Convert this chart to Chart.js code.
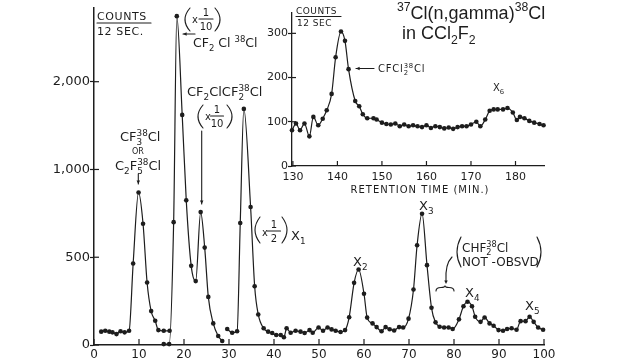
<!DOCTYPE html>
<html>
<head>
<meta charset="utf-8">
<script src="https://cdn.jsdelivr.net/npm/chart.js@4.4.1/dist/chart.umd.min.js"></script>
<style>
  html, body { margin: 0; padding: 0; background: #fff; }
  #wrap { position: relative; width: 640px; height: 360px; overflow: hidden; }
  #main { position: absolute; left: 0; top: 0; }
  #inset { position: absolute; left: 250px; top: 0; }
</style>
</head>
<body>
<div id="wrap">
  <canvas id="main" width="640" height="360"></canvas>
  <canvas id="inset" width="310" height="205"></canvas>
</div>
<script>
// retention time (min) / counts per 12 sec
// CF3-38Cl (or C2F5-38Cl) peak with its baseline
var peakAT = [1.6, 2.5, 3.4, 4.1, 5.0, 5.9, 6.8, 7.8, 8.7, 9.9, 10.9, 11.8, 12.7, 13.6, 14.3, 15.5, 16.8];
var peakAC = [76, 81, 76, 72, 62, 78, 72, 81, 464, 869, 691, 356, 193, 138, 85, 81, 81];

// CF2Cl-38Cl and CF2ClCF2-38Cl (both x 1/10)
var peakBT = [15.5, 16.7, 17.7, 18.4, 19.6, 20.5, 21.6, 22.6, 23.7, 24.6, 25.4, 26.5, 27.6, 28.5];
var peakBC = [5, 5, 700, 2747, 1622, 824, 451, 364, 757, 555, 274, 123, 51, 23];

// X1 (x 1/2) through X5
var restT = [29.6, 30.7, 31.8, 32.5, 33.3, 34.8, 35.7, 36.5, 37.7, 38.7,
  39.6, 40.5, 41.5, 42.2, 42.8, 43.7, 44.8, 45.9, 46.8, 47.9,
  48.6, 49.9, 50.9, 51.9, 52.8, 53.7, 54.8, 55.8, 56.7, 57.8,
  58.8, 60.0, 60.7, 61.9, 62.8, 63.9, 64.8, 65.7, 66.7, 67.8,
  68.7, 69.9, 71.0, 71.8, 72.9, 74.0, 75.0, 75.9, 76.8, 77.8,
  78.8, 79.7, 81.1, 82.1, 83.0, 84.0, 84.7, 85.9, 86.8, 87.9,
  88.8, 89.9, 90.9, 91.8, 92.8, 93.9, 94.8, 95.9, 96.8, 97.7,
  98.7, 99.8];
var restC = [91, 70, 78, 695, 1690, 786, 335, 174, 95, 76,
  68, 57, 57, 44, 95, 70, 81, 76, 68, 85,
  70, 100, 81, 100, 89, 81, 74, 85, 158, 354,
  430, 292, 156, 123, 102, 78, 102, 90, 83, 102,
  100, 150, 316, 568, 748, 455, 212, 129, 104, 100,
  100, 91, 146, 221, 246, 221, 161, 132, 157, 123,
  110, 85, 81, 91, 95, 87, 136, 136, 161, 132,
  100, 87];

// inset: CFCl2-38Cl and X6
var insetT = [129.8, 130.7, 131.6, 132.6, 133.7, 134.6, 135.7, 136.7, 137.6, 138.7,
  139.6, 140.8, 141.7, 142.5, 144.0, 144.9, 145.7, 146.7, 148.1, 148.8,
  150, 151, 152, 153, 154, 155, 156, 157, 158, 159,
  160, 161, 162, 163, 164, 165, 166, 167, 168, 169,
  170, 171.2, 172.1, 173.2, 174.2, 175.1, 176.0, 177.2, 178.2, 179.4,
  180.3, 181.0, 182.0, 183.1, 184.2, 185.4, 186.3];
var insetC = [81, 96, 81, 96, 67, 111, 92, 107, 126, 163,
  246, 304, 283, 219, 147, 135, 117, 108, 108, 105,
  98, 95, 94, 96, 90, 94, 90, 92, 90, 88,
  92, 86, 90, 88, 85, 87, 84, 88, 90, 90,
  94, 100, 90, 105, 125, 128, 128, 128, 131, 121,
  104, 111, 108, 102, 98, 95, 92];

var mainXTicks = [0, 10, 20, 30, 40, 50, 60, 70, 80, 90, 100];
var mainYTicks = [0, 500, 1000, 2000];
var insetXTicks = [130, 140, 150, 160, 170, 180];
var insetYTicks = [0, 100, 200, 300];

var INK = '#1d1d1d';
var LETTER = 'DejaVu Sans';

// the main count axis is squeezed by half above 1,000
function toAxis(v) { return v <= 1000 ? v : 1000 + (v - 1000) / 2; }
function fromAxis(d) { return d <= 1000 ? d : 1000 + (d - 1000) * 2; }

function pairs(ts, cs, f) {
  return ts.map(function(t, i) { return {x: t, y: f ? f(cs[i]) : cs[i]}; });
}

function series(data) {
  return {
    data: data,
    borderColor: INK,
    borderWidth: 1.2,
    pointRadius: 2.3,
    pointBackgroundColor: INK,
    pointBorderWidth: 0,
    cubicInterpolationMode: 'monotone',
    fill: false,
    clip: false
  };
}

// ---- drawing helpers for the hand lettering ----
function rich(ctx, x, y, segs, size, opts) {
  opts = opts || {};
  var fam = opts.family || LETTER;
  ctx.save();
  ctx.fillStyle = INK;
  ctx.textBaseline = 'alphabetic';
  ctx.textAlign = 'left';
  if ('letterSpacing' in ctx) ctx.letterSpacing = (opts.ls || 0) + 'px';
  function fontFor(mode) { return (mode ? size * 0.68 : size) + 'px "' + fam + '"'; }
  if (opts.align === 'center') {
    var w = 0;
    segs.forEach(function(s) {
      ctx.font = fontFor(s[1]);
      if (!s[2]) w += ctx.measureText(s[0]).width;
    });
    x -= w / 2;
  }
  segs.forEach(function(s) {
    var mode = s[1];
    ctx.font = fontFor(mode);
    var dy = mode === 'sup' ? -size * 0.42 : mode === 'sub' ? size * 0.28 : 0;
    ctx.fillText(s[0], x, y + dy);
    if (!s[2]) x += ctx.measureText(s[0]).width;
  });
  ctx.restore();
  return x;
}

function seg(ctx, x1, y1, x2, y2) {
  ctx.beginPath();
  ctx.moveTo(x1, y1);
  ctx.lineTo(x2, y2);
  ctx.stroke();
}

function head(ctx, x, y, ang) {
  var s = 4;
  ctx.beginPath();
  ctx.moveTo(x, y);
  ctx.lineTo(x - s * Math.cos(ang - 0.45), y - s * Math.sin(ang - 0.45));
  ctx.lineTo(x - s * Math.cos(ang + 0.45), y - s * Math.sin(ang + 0.45));
  ctx.closePath();
  ctx.fill();
}

function arrow(ctx, x1, y1, x2, y2) {
  seg(ctx, x1, y1, x2, y2);
  head(ctx, x2, y2, Math.atan2(y2 - y1, x2 - x1));
}

// side -1 draws "(", side 1 draws ")"; x is where the ends sit
function paren(ctx, x, top, bot, side, w) {
  ctx.beginPath();
  ctx.moveTo(x, top);
  ctx.quadraticCurveTo(x + side * 2 * w, (top + bot) / 2, x, bot);
  ctx.stroke();
}

function frac(ctx, cx, ly, num, den, size, hw) {
  rich(ctx, cx, ly - 3.5, [[num]], size, {align: 'center'});
  seg(ctx, cx - hw, ly, cx + hw, ly);
  rich(ctx, cx, ly + 10.5, [[den]], size, {align: 'center'});
}

function drawMainNotes(ctx) {
  // unit label
  rich(ctx, 97, 20, [['COUNTS']], 11, {ls: 0.6});
  seg(ctx, 97, 23, 151, 23);
  rich(ctx, 97, 35, [['12 SEC.']], 11, {ls: 0.6});

  // CF2Cl38Cl (x 1/10)
  paren(ctx, 190, 8, 31, -1, 5);
  rich(ctx, 192, 23, [['x']], 10);
  frac(ctx, 206, 19, '1', '10', 10, 7);
  paren(ctx, 215, 8, 31, 1, 5);
  arrow(ctx, 195, 34, 183, 34);
  rich(ctx, 193, 47, [['CF'], ['2', 'sub'], [' Cl '], ['38', 'sup'], ['Cl']], 12.5);

  // CF2ClCF2 38Cl (x 1/10)
  rich(ctx, 187, 96, [['CF'], ['2', 'sub'], ['ClCF'], ['2', 'sub', true], ['38', 'sup'], ['Cl']], 13);
  paren(ctx, 203, 105, 128, -1, 5);
  rich(ctx, 205, 120, [['x']], 10);
  frac(ctx, 217, 116, '1', '10', 10, 6.5);
  paren(ctx, 227, 105, 128, 1, 5);
  arrow(ctx, 201.7, 131, 201.7, 204);

  // CF3 38Cl or C2F5 38Cl
  rich(ctx, 120, 141, [['CF'], ['3', 'sub', true], ['38', 'sup'], ['Cl']], 13);
  rich(ctx, 138, 154, [['OR']], 8, {align: 'center'});
  rich(ctx, 115, 170, [['C'], ['2', 'sub'], ['F'], ['5', 'sub', true], ['38', 'sup'], ['Cl']], 13);
  arrow(ctx, 138.3, 174, 138.3, 184);

  // (x 1/2) X1
  paren(ctx, 260, 217, 243, -1, 5);
  rich(ctx, 262, 236, [['x']], 10);
  frac(ctx, 274, 231, '1', '2', 10, 6.5);
  paren(ctx, 282, 217, 243, 1, 5);
  rich(ctx, 291, 240, [['X'], ['1', 'sub']], 13);

  rich(ctx, 353, 266, [['X'], ['2', 'sub']], 13);
  rich(ctx, 419, 210, [['X'], ['3', 'sub']], 13);
  rich(ctx, 465, 297, [['X'], ['4', 'sub']], 13);
  rich(ctx, 525, 310, [['X'], ['5', 'sub']], 13);

  // CHF2 38Cl not observed
  paren(ctx, 461, 237, 267, -1, 4);
  rich(ctx, 462, 252, [['CHF'], ['2', 'sub', true], ['38', 'sup'], ['Cl']], 12);
  rich(ctx, 462, 266, [['NOT -OBSVD']], 12);
  paren(ctx, 537, 237, 267, 1, 4);
  ctx.beginPath();
  ctx.moveTo(452, 257);
  ctx.quadraticCurveTo(445, 264, 446, 281);
  ctx.stroke();
  head(ctx, 446, 284, Math.PI / 2);
  ctx.beginPath();
  ctx.moveTo(436, 291);
  ctx.quadraticCurveTo(436, 287.5, 441, 287.5);
  ctx.quadraticCurveTo(445, 287.5, 445, 285.5);
  ctx.quadraticCurveTo(445, 287.5, 449, 287.5);
  ctx.quadraticCurveTo(454, 287.5, 454, 291);
  ctx.stroke();

  // title
  rich(ctx, 397, 19, [['37', 'sup'], ['Cl(n,gamma)'], ['38', 'sup'], ['Cl']], 18, {family: 'Liberation Sans'});
  rich(ctx, 402, 39, [['in CCl'], ['2', 'sub'], ['F'], ['2', 'sub']], 18, {family: 'Liberation Sans'});
}

function drawInsetNotes(ctx) {
  rich(ctx, 296, 14, [['COUNTS']], 9, {ls: 0.5});
  seg(ctx, 296, 16.5, 341, 16.5);
  rich(ctx, 297, 26, [['12 SEC']], 9, {ls: 0.5});
  arrow(ctx, 374, 68.5, 356, 68.5);
  rich(ctx, 378, 72, [['CFCl'], ['2', 'sub', true], ['38', 'sup'], ['Cl']], 10, {ls: 0.8});
  rich(ctx, 493, 91, [['X'], ['6', 'sub']], 10);
  rich(ctx, 420, 193, [['RETENTION TIME (MIN.)']], 10, {ls: 1, align: 'center'});
}

// ticks that poke into the plot, as on the original
var innerTicks = {
  id: 'innerTicks',
  afterDraw: function(chart, args, opts) {
    var ctx = chart.ctx, a = chart.chartArea;
    var xs = chart.scales.x, ys = chart.scales.y;
    ctx.save();
    ctx.strokeStyle = INK;
    ctx.lineWidth = 1.2;
    xs.ticks.forEach(function(t) {
      var px = xs.getPixelForValue(t.value);
      seg(ctx, px, a.bottom, px, a.bottom - opts.x);
    });
    ys.ticks.forEach(function(t) {
      var py = ys.getPixelForValue(t.value);
      seg(ctx, a.left, py, a.left + opts.y, py);
    });
    ctx.restore();
  }
};

var notes = {
  id: 'notes',
  afterDraw: function(chart, args, opts) {
    var ctx = chart.ctx;
    ctx.save();
    ctx.translate(-opts.dx, -opts.dy);
    ctx.strokeStyle = INK;
    ctx.fillStyle = INK;
    ctx.lineWidth = 1.1;
    ctx.lineCap = 'round';
    opts.draw(ctx);
    ctx.restore();
  }
};

function axisFont(size) {
  return {family: LETTER, size: size};
}

new Chart(document.getElementById('main'), {
  type: 'line',
  plugins: [innerTicks, notes],
  data: {
    datasets: [
      series(pairs(peakAT, peakAC, toAxis)),
      series(pairs(peakBT, peakBC, toAxis)),
      series(pairs(restT, restC, toAxis))
    ]
  },
  options: {
    responsive: false,
    devicePixelRatio: 1,
    animation: false,
    layout: {padding: {left: 0, right: 96, top: 5, bottom: 0}},
    scales: {
      x: {
        type: 'linear',
        min: 0,
        max: 100,
        afterBuildTicks: function(s) { s.ticks = mainXTicks.map(function(v) { return {value: v}; }); },
        afterFit: function(s) { s.height = 15; },
        ticks: {color: INK, font: axisFont(12), padding: 3, maxRotation: 0},
        grid: {drawOnChartArea: false, drawTicks: false},
        border: {color: INK, width: 1.5}
      },
      y: {
        type: 'linear',
        min: 0,
        max: 1921,
        afterBuildTicks: function(s) { s.ticks = mainYTicks.map(function(v) { return {value: toAxis(v)}; }); },
        afterFit: function(s) { s.width = 94; },
        ticks: {
          color: INK,
          font: axisFont(13),
          padding: 0,
          callback: function(value) { return fromAxis(value).toLocaleString('en-US'); }
        },
        grid: {drawOnChartArea: false, drawTicks: true, tickLength: 4, color: INK, tickWidth: 1.2},
        border: {color: INK, width: 1.5}
      }
    },
    plugins: {
      legend: {display: false},
      tooltip: {enabled: false},
      innerTicks: {x: 6, y: 5},
      notes: {dx: 0, dy: 0, draw: drawMainNotes}
    }
  }
});

new Chart(document.getElementById('inset'), {
  type: 'line',
  plugins: [innerTicks, notes],
  data: {
    datasets: [series(pairs(insetT, insetC))]
  },
  options: {
    responsive: false,
    devicePixelRatio: 1,
    animation: false,
    layout: {padding: {left: 0, right: 16, top: 13, bottom: 0}},
    scales: {
      x: {
        type: 'linear',
        min: 129.8,
        max: 186.4,
        afterBuildTicks: function(s) { s.ticks = insetXTicks.map(function(v) { return {value: v}; }); },
        afterFit: function(s) { s.height = 39; },
        ticks: {color: INK, font: axisFont(11), padding: 5, maxRotation: 0},
        grid: {drawOnChartArea: false, drawTicks: false},
        border: {color: INK, width: 1.3}
      },
      y: {
        type: 'linear',
        min: 0,
        max: 346,
        afterBuildTicks: function(s) { s.ticks = insetYTicks.map(function(v) { return {value: v}; }); },
        afterFit: function(s) { s.width = 42; },
        ticks: {color: INK, font: axisFont(11), padding: 0},
        grid: {drawOnChartArea: false, drawTicks: true, tickLength: 4, color: INK, tickWidth: 1.2},
        border: {color: INK, width: 1.3}
      }
    },
    plugins: {
      legend: {display: false},
      tooltip: {enabled: false},
      innerTicks: {x: 5, y: 4},
      notes: {dx: 250, dy: 0, draw: drawInsetNotes}
    }
  }
});
</script>
</body>
</html>
